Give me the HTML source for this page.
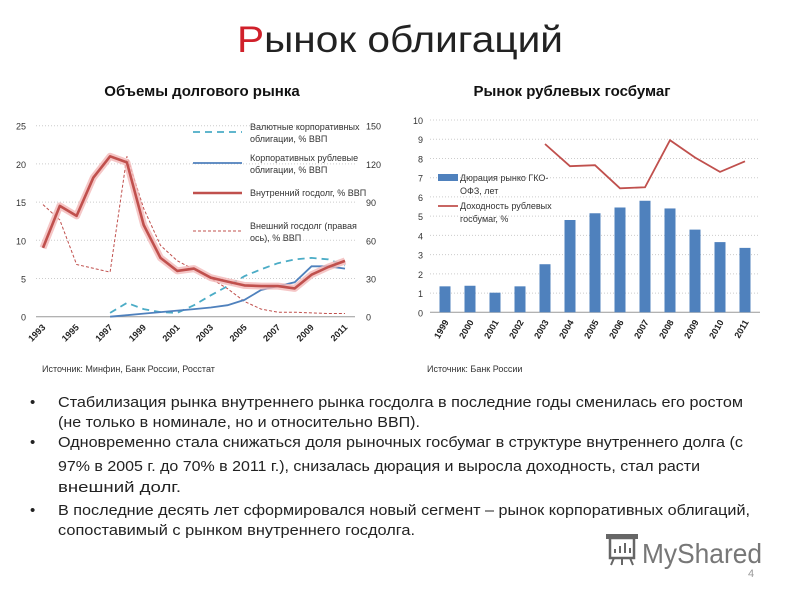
<!DOCTYPE html>
<html><head><meta charset="utf-8"><style>
body{margin:0;background:#fff;}
svg{display:block;font-family:"Liberation Sans","DejaVu Sans",sans-serif;}
</style></head><body>
<svg id="s" width="800" height="600" viewBox="0 0 800 600">
<text x="237" y="52" font-size="37" fill="#222" textLength="326" lengthAdjust="spacingAndGlyphs"><tspan fill="#d0202a">Р</tspan>ынок облигаций</text>
<text x="202" y="96" text-anchor="middle" font-size="15" font-weight="bold" fill="#111">Объемы долгового рынка</text>
<text x="572" y="96" text-anchor="middle" font-size="15" font-weight="bold" fill="#111">Рынок рублевых госбумаг</text>
<g id="L"></g>
<g id="R"></g>
<text x="42" y="372" font-size="9" fill="#333">Источник:  Минфин, Банк России, Росстат</text>
<text x="427" y="372" font-size="9" fill="#333">Источник:  Банк России</text>
<g font-size="15" fill="#222">
<text x="30" y="407">•</text>
<text x="58" y="407" textLength="685" lengthAdjust="spacingAndGlyphs">Стабилизация рынка внутреннего рынка госдолга в последние годы сменилась его ростом</text>
<text x="58" y="427" textLength="362" lengthAdjust="spacingAndGlyphs">(не только в номинале, но и относительно ВВП).</text>
<text x="30" y="447">•</text>
<text x="58" y="447" textLength="685" lengthAdjust="spacingAndGlyphs">Одновременно стала снижаться доля рыночных госбумаг в структуре внутреннего долга (с</text>
<text x="58" y="471" textLength="642" lengthAdjust="spacingAndGlyphs">97% в 2005 г. до 70% в 2011 г.), снизалась дюрация и выросла доходность, стал расти</text>
<text x="58" y="492" textLength="123" lengthAdjust="spacingAndGlyphs">внешний долг.</text>
<text x="30" y="515">•</text>
<text x="58" y="515" textLength="692" lengthAdjust="spacingAndGlyphs">В последние десять лет сформировался новый сегмент – рынок корпоративных облигаций,</text>
<text x="58" y="535" textLength="357" lengthAdjust="spacingAndGlyphs">сопоставимый с рынком внутреннего госдолга.</text>
</g>
<g>
<rect x="610" y="538" width="24" height="20" fill="none" stroke="#666" stroke-width="2.5"/>
<rect x="606" y="534" width="32" height="5" fill="#666"/>
<path d="M615 553v-4M620 553v-7M625 553v-10M630 553v-5" stroke="#666" stroke-width="2"/>
<path d="M614 558l-3 7M622 558v7M630 558l3 7" stroke="#666" stroke-width="2"/>
<text x="642" y="563" font-size="28" fill="#777" textLength="120" lengthAdjust="spacingAndGlyphs">MyShared</text>
</g>
<text x="748" y="577" font-size="11" fill="#999">4</text>
</svg>
<script>
// Left chart data
const yearsL = [1993,1994,1995,1996,1997,1998,1999,2000,2001,2002,2003,2004,2005,2006,2007,2008,2009,2010,2011];
const domDebt = [9,14.5,13.2,18.2,21,20.2,12,7.7,6,6.3,5.1,4.6,4.1,4.0,4.0,3.7,5.5,6.5,7.3];
const extDebt = [88,76,41,38,35,126,85,56,44,37,30,22,12,6,3.5,3.5,3,2.5,2.5];
const fxCorp = [null,null,null,null,0.5,1.8,1.0,0.6,0.5,1.5,2.8,4.0,5.3,6.2,7.0,7.5,7.7,7.5,6.7];
const rubCorp = [null,null,null,null,0,0.2,0.4,0.6,0.8,1.0,1.2,1.5,2.2,3.5,4.0,4.5,6.6,6.6,6.3];
const leftTicks = [0,5,10,15,20,25];
const rightTicks = [0,30,60,90,120,150];
const yearLabelsL = [1993,1995,1997,1999,2001,2003,2005,2007,2009,2011];
// Right chart data
const yearsR = [1999,2000,2001,2002,2003,2004,2005,2006,2007,2008,2009,2010,2011];
const duration = [1.35,1.38,1.02,1.35,2.5,4.8,5.15,5.45,5.8,5.4,4.3,3.65,3.35];
const yieldR = [null,null,null,null,8.75,7.6,7.65,6.45,6.5,8.95,8.05,7.3,7.85];
const ticksR = [0,1,2,3,4,5,6,7,8,9,10];

const NS="http://www.w3.org/2000/svg";
function mk(p,t,a){const e=document.createElementNS(NS,t);for(const k in a)e.setAttribute(k,a[k]);p.appendChild(e);return e;}

// LEFT
const L=document.getElementById('L');
const lx=y=>43+(y-1993)*16.78;
const ly=v=>316.7-v*7.64;
const ly2=v=>316.7-v*(25*7.64/150);
leftTicks.forEach(t=>{
  if(t>0){const g=mk(L,'line',{x1:36,x2:355,y1:ly(t),y2:ly(t),stroke:'#ccc','stroke-dasharray':'1 2'});
  
  }
  const tx=mk(L,'text',{x:26,y:ly(t)+4,'text-anchor':'end','font-size':9,fill:'#333'});tx.textContent=t;
  
  
});
rightTicks.forEach(t=>{
  const tx=mk(L,'text',{x:366,y:ly2(t)+4,'font-size':9,fill:'#333'});tx.textContent=t;
  
  
});
const ax=mk(L,'line',{x1:36,x2:355,y1:316.7,y2:316.7,stroke:'#999'});


yearLabelsL.forEach(y=>{
  const tx=mk(L,'text',{x:lx(y)+3,y:328,'text-anchor':'end','font-size':9,'font-weight':'bold',fill:'#222',transform:`rotate(-45 ${lx(y)+3} 328)`});tx.textContent=y;
  
  
});
function path(xs,vals,fx,fy){let d='';let pen=false;vals.forEach((v,i)=>{if(v==null){pen=false;return;}d+=(pen?'L':'M')+fx(xs[i]).toFixed(1)+' '+fy(v).toFixed(1);pen=true;});return d;}
let p;
p=mk(L,'path',{d:path(yearsL,extDebt,lx,ly2),fill:'none',stroke:'#c0504d','stroke-width':1,'stroke-dasharray':'3 2'});


p=mk(L,'path',{d:path(yearsL,fxCorp,lx,ly),fill:'none',stroke:'#4bacc6','stroke-width':1.8,'stroke-dasharray':'7 5'});


p=mk(L,'path',{d:path(yearsL,rubCorp,lx,ly),fill:'none',stroke:'#4f81bd','stroke-width':1.8});


p=mk(L,'path',{d:path(yearsL,domDebt,lx,ly),fill:'none',stroke:'#f2b8b8','stroke-width':7,'stroke-linejoin':'round',opacity:0.8});


p=mk(L,'path',{d:path(yearsL,domDebt,lx,ly),fill:'none',stroke:'#c0504d','stroke-width':2.6,'stroke-linejoin':'round'});


// left legend
const leg=[['Валютные корпоративных','облигации, % ВВП',127,'#4bacc6','7 5',1.8],['Корпоративных рублевые','облигации, % ВВП',158,'#4f81bd','',1.8],['Внутренний госдолг, % ВВП',null,193,'#c0504d','',2.6],['Внешний госдолг (правая','ось), % ВВП',226,'#c0504d','3 2',1]];
leg.forEach(l=>{
  const g=mk(L,'g',{});
  
  
  const ly0=l[1]?l[2]+5:l[2];
  mk(g,'line',{x1:193,x2:242,y1:ly0,y2:ly0,stroke:l[3],'stroke-width':l[5],'stroke-dasharray':l[4]});
  const t1=mk(g,'text',{x:250,y:l[2]+3,'font-size':9,fill:'#333'});t1.textContent=l[0];
  if(l[1]){const t2=mk(g,'text',{x:250,y:l[2]+15,'font-size':9,fill:'#333'});t2.textContent=l[1];}
});

// RIGHT
const R=document.getElementById('R');
const rx=y=>445+(y-1999)*25;
const ry=v=>312.3-v*19.23;
ticksR.forEach(t=>{
  if(t>0){const g=mk(R,'line',{x1:430,x2:760,y1:ry(t),y2:ry(t),stroke:'#ccc','stroke-dasharray':'1 2'});
  
  }
  const tx=mk(R,'text',{x:423,y:ry(t)+4,'text-anchor':'end','font-size':9,fill:'#333'});tx.textContent=t;
  
  
});
const ax2=mk(R,'line',{x1:430,x2:760,y1:312.3,y2:312.3,stroke:'#999'});


yearsR.forEach((y,i)=>{
  const b=mk(R,'rect',{x:rx(y)-5.5,y:ry(duration[i]),width:11,height:312.3-ry(duration[i]),fill:'#4f81bd'});
  
  
  const tx=mk(R,'text',{x:rx(y)+4,y:322,'text-anchor':'end','font-size':9,'font-weight':'bold',fill:'#222',transform:`rotate(-60 ${rx(y)+4} 322)`});tx.textContent=y;
  
  
});
p=mk(R,'path',{d:path(yearsR,yieldR,rx,ry),fill:'none',stroke:'#c0504d','stroke-width':1.8});


const lg1=mk(R,'g',{});


mk(lg1,'rect',{x:438,y:174,width:20,height:7,fill:'#4f81bd'});
let t=mk(lg1,'text',{x:460,y:181,'font-size':9,fill:'#333'});t.textContent='Дюрация рынко ГКО-';
t=mk(lg1,'text',{x:460,y:194,'font-size':9,fill:'#333'});t.textContent='ОФЗ, лет';
const lg2=mk(R,'g',{});


mk(lg2,'line',{x1:438,x2:458,y1:206,y2:206,stroke:'#c0504d','stroke-width':1.8});
t=mk(lg2,'text',{x:460,y:209,'font-size':9,fill:'#333'});t.textContent='Доходность рублевых';
t=mk(lg2,'text',{x:460,y:222,'font-size':9,fill:'#333'});t.textContent='госбумаг, %';
</script>
</body></html>
